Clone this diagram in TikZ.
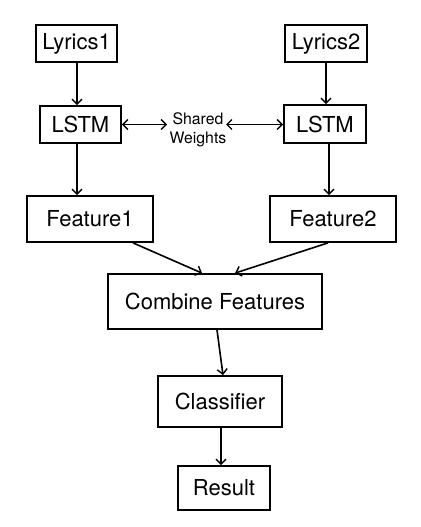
\documentclass[tikz,border=0pt]{standalone}
\usepackage{fontspec}
\setmainfont{TeX Gyre Heros}
\usetikzlibrary{arrows.meta}
\begin{document}
\begin{tikzpicture}[x=1pt,y=-1pt,
  box/.style={draw,line width=1.8pt,inner sep=0pt,font=\fontsize{22}{26}\selectfont},
  conn/.style={line width=1.6pt,-{Straight Barb[length=5pt,width=10pt,line width=1.4pt]}},
  biconn/.style={line width=1.6pt,{Straight Barb[length=5pt,width=10pt,line width=1.4pt]}-{Straight Barb[length=5pt,width=10pt,line width=1.4pt]}}]
\useasboundingbox (0,0) rectangle (420,527);
\node[box,minimum width=81pt,minimum height=37pt] (lyr1) at (76.5,43.5) {Lyrics1};
\node[box,minimum width=82pt,minimum height=37pt] (lyr2) at (326,43.5) {Lyrics2};
\node[box,minimum width=81pt,minimum height=37pt] (lstm1) at (80.5,124.5) {LSTM};
\node[box,minimum width=82pt,minimum height=38pt] (lstm2) at (325,124) {LSTM};
\node[box,minimum width=126pt,minimum height=46pt] (feat1) at (90,219) {Feature1};
\node[box,minimum width=126pt,minimum height=46pt] (feat2) at (333,219) {Feature2};
\node[box,minimum width=214pt,minimum height=55pt] (comb) at (215,301.5) {Combine Features};
\node[box,minimum width=124pt,minimum height=51pt] (cls) at (220,401.5) {Classifier};
\node[box,minimum width=92pt,minimum height=44pt] (res) at (224,488) {Result};
\node[align=center,inner sep=1pt,font=\fontsize{15.8}{19}\selectfont] (sw) at (198,130) {Shared\\Weights};
\coordinate (swl) at (167,124.5);
\coordinate (swr) at (226,124.5);
\draw[conn] ([xshift=0.5pt]lyr1.south) -- ([xshift=0.5pt]lyr1.south |- lstm1.north);
\draw[conn] (lyr2.south) -- (lyr2.south |- lstm2.north);
\draw[conn] ([xshift=-3.5pt]lstm1.south) -- ([xshift=-3.5pt]lstm1.south |- feat1.north);
\draw[conn] ([xshift=4pt]lstm2.south) -- ([xshift=4pt]lstm2.south |- feat2.north);
\draw[biconn] (lstm1.east |- swl) -- (swl);
\draw[biconn] (swr) -- (lstm2.west |- swr);
\draw[conn] ([xshift=43pt]feat1.south) -- ([xshift=-13pt]comb.north);
\draw[conn] ([xshift=-5pt]feat2.south) -- ([xshift=20pt]comb.north);
\draw[conn] ([xshift=2pt]comb.south) -- ([xshift=3pt]cls.north);
\draw[conn] ([xshift=1pt]cls.south) -- ([xshift=1pt]cls.south |- res.north);
\end{tikzpicture}
\end{document}
